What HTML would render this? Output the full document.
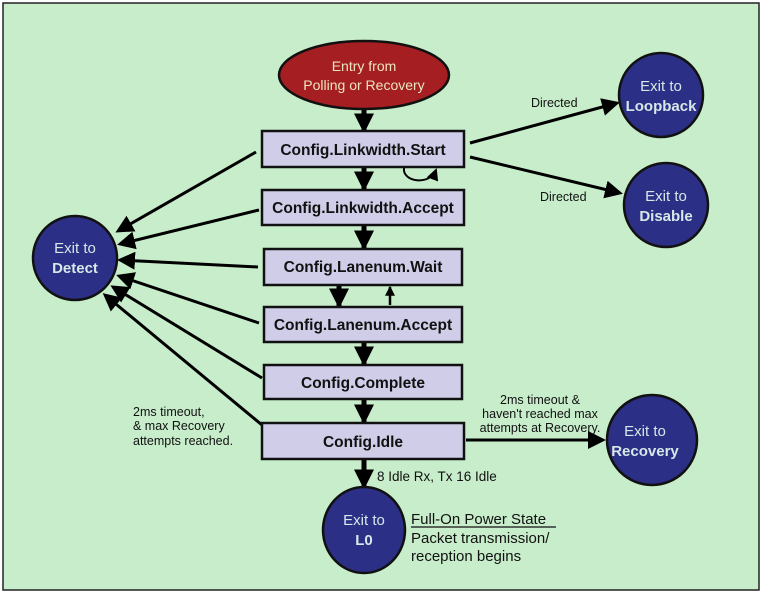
<!DOCTYPE html>
<html><head><style>
body{margin:0;background:#fff}
svg{display:block}
text{font-family:"Liberation Sans",sans-serif}
</style></head><body>
<svg width="763" height="594" viewBox="0 0 763 594">
<defs>
<marker id="a" markerWidth="6" markerHeight="6" refX="5" refY="3" orient="auto" markerUnits="strokeWidth"><path d="M0,0L6,3L0,6z" fill="#000"/></marker>
<marker id="b" markerWidth="4" markerHeight="4" refX="3.5" refY="2" orient="auto" markerUnits="strokeWidth"><path d="M0,0L4,2L0,4z" fill="#000"/></marker>
</defs>
<rect x="3" y="3" width="756" height="587" fill="#c8edcb" stroke="#222" stroke-width="1.5"/>
<g stroke="#000" stroke-width="3" fill="none" marker-end="url(#a)">
<line x1="256" y1="152" x2="118" y2="231"/>
<line x1="259" y1="210" x2="120" y2="244"/>
<line x1="258" y1="267" x2="120" y2="260"/>
<line x1="259" y1="323" x2="119" y2="276"/>
<line x1="262" y1="378" x2="113" y2="287"/>
<line x1="262" y1="425" x2="105" y2="295"/>
<line x1="470" y1="143" x2="617" y2="103"/>
<line x1="470" y1="157" x2="620" y2="193"/>
<line x1="466" y1="440" x2="603" y2="440"/>
</g>
<g stroke="#000" stroke-width="5" fill="none" marker-end="url(#b)">
<line x1="364" y1="110" x2="364" y2="131"/>
<line x1="364" y1="168" x2="364" y2="189"/>
<line x1="364" y1="226" x2="364" y2="248"/>
<line x1="339" y1="286" x2="339" y2="306"/>
<line x1="364" y1="343" x2="364" y2="364"/>
<line x1="364" y1="400" x2="364" y2="422"/>
<line x1="364" y1="460" x2="364" y2="487"/>
</g>
<line x1="390" y1="305" x2="390" y2="287" stroke="#000" stroke-width="2.5" marker-end="url(#b)"/>
<path d="M404,168 C402,182 430,186 436,170" stroke="#000" stroke-width="2" fill="none" marker-end="url(#a)"/>
<ellipse cx="364" cy="75" rx="85" ry="34" fill="#a41e22" stroke="#111" stroke-width="2.5"/>
<text x="364" y="71" font-size="14" fill="#ece6c0" text-anchor="middle">Entry from</text>
<text x="364" y="90" font-size="14" fill="#ece6c0" text-anchor="middle">Polling or Recovery</text>
<g fill="#cfcde8" stroke="#111" stroke-width="2.5">
<rect x="262" y="131" width="202" height="36"/>
<rect x="262" y="190" width="202" height="35"/>
<rect x="264" y="249" width="198" height="36"/>
<rect x="264" y="307" width="198" height="35"/>
<rect x="264" y="365" width="198" height="34"/>
<rect x="262" y="423" width="202" height="36"/>
</g>
<g font-size="15.5" font-weight="bold" fill="#111" text-anchor="middle">
<text x="363" y="155">Config.Linkwidth.Start</text>
<text x="363" y="213">Config.Linkwidth.Accept</text>
<text x="363" y="272">Config.Lanenum.Wait</text>
<text x="363" y="330">Config.Lanenum.Accept</text>
<text x="363" y="388">Config.Complete</text>
<text x="363" y="447">Config.Idle</text>
</g>
<g fill="#2b2f85" stroke="#111" stroke-width="2.5">
<circle cx="75" cy="258" r="42"/>
<circle cx="661" cy="95" r="42"/>
<circle cx="666" cy="205" r="42"/>
<circle cx="652" cy="440" r="45"/>
<ellipse cx="364" cy="530" rx="41" ry="43"/>
</g>
<g font-size="15" fill="#d8e8e8" text-anchor="middle">
<text x="75" y="253">Exit to</text><text x="75" y="273" font-weight="bold">Detect</text>
<text x="661" y="91">Exit to</text><text x="661" y="111" font-weight="bold">Loopback</text>
<text x="666" y="201">Exit to</text><text x="666" y="221" font-weight="bold">Disable</text>
<text x="645" y="436">Exit to</text><text x="645" y="456" font-weight="bold">Recovery</text>
<text x="364" y="525">Exit to</text><text x="364" y="545" font-weight="bold">L0</text>
</g>
<g font-size="12.5" fill="#111">
<text x="531" y="107">Directed</text>
<text x="540" y="201">Directed</text>
<text x="133" y="416">2ms timeout,</text>
<text x="133" y="430">&amp; max Recovery</text>
<text x="133" y="445">attempts reached.</text>
<text x="540" y="404" text-anchor="middle">2ms timeout &amp;</text>
<text x="540" y="418" text-anchor="middle">haven't reached max</text>
<text x="540" y="432" text-anchor="middle">attempts at Recovery.</text>
<text x="377" y="481" font-size="13.5">8 Idle Rx, Tx 16 Idle</text>
</g>
<g font-size="15" fill="#111">
<text x="411" y="524">Full-On Power State</text>
<line x1="411" y1="527" x2="556" y2="527" stroke="#111" stroke-width="1.2"/>
<text x="411" y="543">Packet transmission/</text>
<text x="411" y="561">reception begins</text>
</g>
</svg>
</body></html>
